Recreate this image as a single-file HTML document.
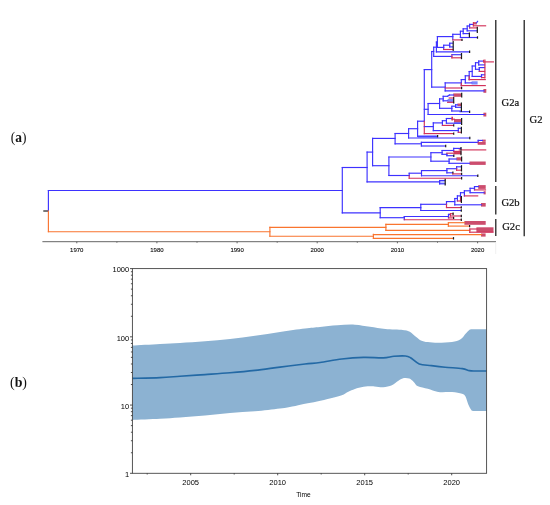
<!DOCTYPE html>
<html><head><meta charset="utf-8"><title>Figure</title>
<style>html,body{margin:0;padding:0;background:#fff}svg{display:block}</style></head>
<body>
<svg width="550" height="505" viewBox="0 0 550 505">
<rect width="550" height="505" fill="#fff"/>
<defs><filter id="soft" x="-2%" y="-2%" width="104%" height="104%"><feGaussianBlur stdDeviation="0.32"/></filter></defs>
<g id="tree" fill="none" stroke-linecap="square" filter="url(#soft)">
<rect x="473.4" y="22.1" width="3.4" height="2.4" fill="#c83e62" fill-opacity="0.93" stroke="none"/>
<rect x="483.4" y="89.0" width="2.9" height="3.8" fill="#c83e62" fill-opacity="0.93" stroke="none"/>
<rect x="471.6" y="81.3" width="6.0" height="3.2" fill="#6e7bff" fill-opacity="0.90" stroke="none"/>
<rect x="483.4" y="112.7" width="2.9" height="3.8" fill="#c83e62" fill-opacity="0.93" stroke="none"/>
<rect x="453.2" y="93.4" width="8.4" height="3.4" fill="#c83e62" fill-opacity="0.93" stroke="none"/>
<rect x="447.6" y="99.0" width="5.9" height="3.4" fill="#6e7bff" fill-opacity="0.90" stroke="none"/>
<rect x="457.4" y="103.5" width="3.6" height="2.6" fill="#c83e62" fill-opacity="0.93" stroke="none"/>
<rect x="454.0" y="122.0" width="7.2" height="1.8" fill="#6e7bff" fill-opacity="0.80" stroke="none"/>
<rect x="454.0" y="119.0" width="7.5" height="3.2" fill="#c83e62" fill-opacity="0.93" stroke="none"/>
<rect x="417.6" y="135.4" width="19.7" height="2.4" fill="#6e7bff" fill-opacity="0.70" stroke="none"/>
<rect x="482.2" y="139.6" width="3.5" height="2.2" fill="#c83e62" fill-opacity="0.93" stroke="none"/>
<rect x="478.2" y="142.0" width="7.5" height="2.8" fill="#c83e62" fill-opacity="0.93" stroke="none"/>
<rect x="453.6" y="151.0" width="7.6" height="3.4" fill="#c83e62" fill-opacity="0.93" stroke="none"/>
<rect x="456.4" y="157.3" width="5.1" height="3.2" fill="#c83e62" fill-opacity="0.93" stroke="none"/>
<rect x="469.5" y="161.5" width="16.2" height="3.4" fill="#c83e62" fill-opacity="0.93" stroke="none"/>
<rect x="439.6" y="180.6" width="5.2" height="3.2" fill="#6e7bff" fill-opacity="0.45" stroke="none"/>
<rect x="481.0" y="203.0" width="4.7" height="3.6" fill="#c83e62" fill-opacity="0.93" stroke="none"/>
<rect x="483.6" y="191.2" width="2.1" height="3.2" fill="#c83e62" fill-opacity="0.93" stroke="none"/>
<rect x="478.2" y="185.1" width="7.5" height="3.8" fill="#c83e62" fill-opacity="0.93" stroke="none"/>
<rect x="464.4" y="221.0" width="21.3" height="3.8" fill="#c83e62" fill-opacity="0.93" stroke="none"/>
<rect x="476.4" y="227.3" width="17.1" height="5.0" fill="#c83e62" fill-opacity="0.93" stroke="none"/>
<rect x="481.0" y="233.4" width="4.6" height="3.2" fill="#c83e62" fill-opacity="0.93" stroke="none"/>
<path d="M43.9,211.0L48.4,211.0" stroke="#111" stroke-width="1.15"/>
<path d="M48.4,190.5L48.4,211.0" stroke="#3c32ff" stroke-width="1.15"/>
<path d="M48.4,211.0L48.4,231.7" stroke="#f9742f" stroke-width="1.15"/>
<path d="M48.4,190.5L342.3,190.5" stroke="#3c32ff" stroke-width="1.15"/>
<path d="M48.4,231.7L269.9,231.7" stroke="#f9742f" stroke-width="1.15"/>
<path d="M342.3,167.5L342.3,212.8" stroke="#3c32ff" stroke-width="1.15"/>
<path d="M342.3,167.5L367.1,167.5" stroke="#3c32ff" stroke-width="1.15"/>
<path d="M367.1,152.1L367.1,181.8" stroke="#3c32ff" stroke-width="1.15"/>
<path d="M367.1,181.8L439.6,181.8" stroke="#3c32ff" stroke-width="1.15"/>
<path d="M367.1,152.1L372.6,152.1" stroke="#3c32ff" stroke-width="1.15"/>
<path d="M372.6,138.4L372.6,165.7" stroke="#3c32ff" stroke-width="1.15"/>
<path d="M372.6,138.4L395.1,138.4" stroke="#3c32ff" stroke-width="1.15"/>
<path d="M395.1,133.5L395.1,143.8" stroke="#3c32ff" stroke-width="1.15"/>
<path d="M372.6,165.7L388.9,165.7" stroke="#3c32ff" stroke-width="1.15"/>
<path d="M388.9,157.0L388.9,175.5" stroke="#3c32ff" stroke-width="1.15"/>
<path d="M388.9,157.0L430.9,157.0" stroke="#3c32ff" stroke-width="1.15"/>
<path d="M388.9,175.5L409.2,175.5" stroke="#3c32ff" stroke-width="1.15"/>
<path d="M342.3,212.8L380.2,212.8" stroke="#3c32ff" stroke-width="1.15"/>
<path d="M380.2,207.6L380.2,217.7" stroke="#3c32ff" stroke-width="1.15"/>
<path d="M424.3,69.6L424.3,121.2" stroke="#3c32ff" stroke-width="1.15"/>
<path d="M424.3,69.6L431.7,69.6" stroke="#3c32ff" stroke-width="1.15"/>
<path d="M431.7,51.5L431.7,87.1" stroke="#3c32ff" stroke-width="1.15"/>
<path d="M431.7,51.5L433.7,51.5" stroke="#3c32ff" stroke-width="1.15"/>
<path d="M433.7,47.2L433.7,56.4" stroke="#3c32ff" stroke-width="1.15"/>
<path d="M433.7,56.4L451.9,56.4" stroke="#3c32ff" stroke-width="1.15"/>
<path d="M451.9,54.7L451.9,57.8" stroke="#d2325a" stroke-width="1.15"/>
<path d="M451.9,54.7L461.0,54.7" stroke="#3c32ff" stroke-width="1.15"/>
<path d="M451.9,57.8L461.0,57.8" stroke="#d2325a" stroke-width="1.15"/>
<path d="M461.5,53.6L461.5,58.6" stroke="#1a1a1a" stroke-width="1.20"/>
<path d="M433.7,47.2L436.4,47.2" stroke="#3c32ff" stroke-width="1.15"/>
<path d="M436.4,42.0L436.4,51.8" stroke="#3c32ff" stroke-width="1.15"/>
<path d="M436.4,51.8L469.3,51.8" stroke="#3c32ff" stroke-width="1.15"/>
<path d="M469.6,51.2L469.6,52.4" stroke="#1a1a1a" stroke-width="1.20"/>
<path d="M436.4,42.0L437.4,42.0" stroke="#3c32ff" stroke-width="1.15"/>
<path d="M437.4,36.6L437.4,47.4" stroke="#3c32ff" stroke-width="1.15"/>
<path d="M437.4,47.4L443.7,47.4" stroke="#3c32ff" stroke-width="1.15"/>
<path d="M443.7,45.2L443.7,49.5" stroke="#3c32ff" stroke-width="1.15"/>
<path d="M443.7,49.5L452.8,49.5" stroke="#d2325a" stroke-width="1.15"/>
<path d="M443.7,45.2L449.7,45.2" stroke="#3c32ff" stroke-width="1.15"/>
<path d="M449.7,43.2L449.7,46.9" stroke="#3c32ff" stroke-width="1.15"/>
<path d="M449.7,43.2L452.6,43.2" stroke="#3c32ff" stroke-width="1.15"/>
<path d="M449.7,46.9L452.6,46.9" stroke="#3c32ff" stroke-width="1.15"/>
<path d="M453.2,41.6L453.2,50.4" stroke="#1a1a1a" stroke-width="1.20"/>
<path d="M437.4,36.6L452.8,36.6" stroke="#3c32ff" stroke-width="1.15"/>
<path d="M452.8,34.3L452.8,39.8" stroke="#3c32ff" stroke-width="1.15"/>
<path d="M452.8,39.9L461.6,39.9" stroke="#d2325a" stroke-width="1.15"/>
<path d="M462.0,39.3L462.0,40.5" stroke="#1a1a1a" stroke-width="1.20"/>
<path d="M452.8,34.3L460.4,34.3" stroke="#3c32ff" stroke-width="1.15"/>
<path d="M460.4,31.2L460.4,37.5" stroke="#3c32ff" stroke-width="1.15"/>
<path d="M460.4,37.5L477.2,37.5" stroke="#3c32ff" stroke-width="1.15"/>
<path d="M477.5,36.9L477.5,38.1" stroke="#1a1a1a" stroke-width="1.20"/>
<path d="M460.4,31.2L463.2,31.2" stroke="#3c32ff" stroke-width="1.15"/>
<path d="M463.2,28.8L463.2,33.6" stroke="#3c32ff" stroke-width="1.15"/>
<path d="M463.2,33.6L469.2,33.6" stroke="#3c32ff" stroke-width="1.15"/>
<path d="M469.4,33.2L469.4,36.8" stroke="#1a1a1a" stroke-width="1.20"/>
<path d="M463.2,28.8L467.2,28.8" stroke="#3c32ff" stroke-width="1.15"/>
<path d="M467.2,26.0L467.2,30.8" stroke="#3c32ff" stroke-width="1.15"/>
<path d="M467.2,30.8L476.8,30.8" stroke="#3c32ff" stroke-width="1.15"/>
<path d="M467.2,26.0L469.6,26.0" stroke="#3c32ff" stroke-width="1.15"/>
<path d="M469.6,24.4L469.6,27.9" stroke="#3c32ff" stroke-width="1.15"/>
<path d="M469.6,27.9L477.0,27.9" stroke="#d2325a" stroke-width="1.15"/>
<path d="M469.6,24.4L473.4,24.4" stroke="#3c32ff" stroke-width="1.15"/>
<path d="M473.4,22.5L473.4,25.8" stroke="#d2325a" stroke-width="1.15"/>
<path d="M473.4,25.8L485.6,25.8" stroke="#d2325a" stroke-width="1.15"/>
<path d="M476.6,22.8L477.6,21.4" stroke="#3c32ff" stroke-width="1.15"/>
<path d="M477.3,27.4L477.3,32.4" stroke="#1a1a1a" stroke-width="1.20"/>
<path d="M431.7,87.1L445.2,87.1" stroke="#3c32ff" stroke-width="1.15"/>
<path d="M445.2,82.9L445.2,90.9" stroke="#3c32ff" stroke-width="1.15"/>
<path d="M445.2,90.9L484.0,90.9" stroke="#3c32ff" stroke-width="1.15"/>
<path d="M445.2,88.0L461.3,88.0" stroke="#d2325a" stroke-width="1.15"/>
<path d="M461.6,87.4L461.6,88.6" stroke="#1a1a1a" stroke-width="1.20"/>
<path d="M445.2,82.9L461.3,82.9" stroke="#3c32ff" stroke-width="1.15"/>
<path d="M461.3,79.6L461.3,85.6" stroke="#3c32ff" stroke-width="1.15"/>
<path d="M461.3,83.2L461.3,85.6" stroke="#d2325a" stroke-width="1.15"/>
<path d="M461.3,85.6L485.3,85.6" stroke="#d2325a" stroke-width="1.15"/>
<path d="M461.3,79.6L465.3,79.6" stroke="#3c32ff" stroke-width="1.15"/>
<path d="M465.3,75.8L465.3,82.9" stroke="#3c32ff" stroke-width="1.15"/>
<path d="M465.3,82.9L471.6,82.9" stroke="#3c32ff" stroke-width="1.15"/>
<path d="M465.3,75.8L469.2,75.8" stroke="#3c32ff" stroke-width="1.15"/>
<path d="M469.2,71.5L469.2,79.6" stroke="#3c32ff" stroke-width="1.15"/>
<path d="M469.2,76.4L469.2,79.6" stroke="#d2325a" stroke-width="1.15"/>
<path d="M469.2,79.6L485.3,79.6" stroke="#d2325a" stroke-width="1.15"/>
<path d="M469.2,71.5L472.2,71.5" stroke="#3c32ff" stroke-width="1.15"/>
<path d="M472.2,66.0L472.2,76.4" stroke="#3c32ff" stroke-width="1.15"/>
<path d="M472.2,76.4L481.5,76.4" stroke="#3c32ff" stroke-width="1.15"/>
<path d="M481.5,74.8L481.5,77.6" stroke="#3c32ff" stroke-width="1.15"/>
<path d="M481.5,74.8L484.6,74.8" stroke="#3c32ff" stroke-width="1.15"/>
<path d="M481.5,77.6L484.6,77.6" stroke="#d2325a" stroke-width="1.15"/>
<path d="M472.2,66.0L475.5,66.0" stroke="#3c32ff" stroke-width="1.15"/>
<path d="M475.5,62.7L475.5,69.3" stroke="#3c32ff" stroke-width="1.15"/>
<path d="M475.5,69.3L479.3,69.3" stroke="#3c32ff" stroke-width="1.15"/>
<path d="M479.3,67.6L479.3,71.4" stroke="#3c32ff" stroke-width="1.15"/>
<path d="M479.3,67.6L484.6,67.6" stroke="#3c32ff" stroke-width="1.15"/>
<path d="M479.3,71.4L484.6,71.4" stroke="#d2325a" stroke-width="1.15"/>
<path d="M475.5,62.7L478.7,62.7" stroke="#3c32ff" stroke-width="1.15"/>
<path d="M478.7,61.1L478.7,64.9" stroke="#3c32ff" stroke-width="1.15"/>
<path d="M478.7,64.9L484.6,64.9" stroke="#3c32ff" stroke-width="1.15"/>
<path d="M478.7,61.1L483.6,61.1" stroke="#3c32ff" stroke-width="1.15"/>
<path d="M483.6,60.2L483.6,62.0" stroke="#d2325a" stroke-width="1.15"/>
<path d="M483.6,61.9L493.4,61.9" stroke="#d2325a" stroke-width="1.15"/>
<path d="M484.9,60.2L484.9,78.0" stroke="#d2325a" stroke-width="1.20"/>
<path d="M424.3,109.3L428.1,109.3" stroke="#3c32ff" stroke-width="1.15"/>
<path d="M428.1,103.5L428.1,114.5" stroke="#3c32ff" stroke-width="1.15"/>
<path d="M428.1,114.5L484.0,114.5" stroke="#3c32ff" stroke-width="1.15"/>
<path d="M428.1,103.5L439.6,103.5" stroke="#3c32ff" stroke-width="1.15"/>
<path d="M439.6,98.9L439.6,108.3" stroke="#3c32ff" stroke-width="1.15"/>
<path d="M439.6,98.9L443.2,98.9" stroke="#3c32ff" stroke-width="1.15"/>
<path d="M443.2,96.4L443.2,100.8" stroke="#3c32ff" stroke-width="1.15"/>
<path d="M443.2,96.3L447.6,96.3" stroke="#3c32ff" stroke-width="1.15"/>
<path d="M447.6,96.3L449.4,95.0" stroke="#3c32ff" stroke-width="1.15"/>
<path d="M449.4,95.0L453.4,95.0" stroke="#3c32ff" stroke-width="1.15"/>
<path d="M449.2,98.0L453.3,98.0" stroke="#d2325a" stroke-width="1.15"/>
<path d="M461.7,93.4L461.7,96.8" stroke="#1a1a1a" stroke-width="1.20"/>
<path d="M443.2,100.8L447.6,100.8" stroke="#3c32ff" stroke-width="1.15"/>
<path d="M447.6,102.3L453.5,102.3" stroke="#d2325a" stroke-width="1.15"/>
<path d="M453.7,97.6L453.7,102.8" stroke="#1a1a1a" stroke-width="1.20"/>
<path d="M439.6,108.3L452.0,108.3" stroke="#3c32ff" stroke-width="1.15"/>
<path d="M451.8,106.2L451.8,111.0" stroke="#3c32ff" stroke-width="1.15"/>
<path d="M452.0,106.2L455.6,106.2" stroke="#3c32ff" stroke-width="1.15"/>
<path d="M455.6,104.8L455.6,107.3" stroke="#3c32ff" stroke-width="1.15"/>
<path d="M455.6,104.8L457.6,104.8" stroke="#3c32ff" stroke-width="1.15"/>
<path d="M455.6,107.3L460.6,107.3" stroke="#3c32ff" stroke-width="1.15"/>
<path d="M451.8,111.0L460.4,111.0" stroke="#3c32ff" stroke-width="1.15"/>
<path d="M460.0,111.7L469.3,111.7" stroke="#3c32ff" stroke-width="1.15"/>
<path d="M469.6,111.2L469.6,112.4" stroke="#1a1a1a" stroke-width="1.20"/>
<path d="M461.4,103.2L461.4,111.2" stroke="#1a1a1a" stroke-width="1.20"/>
<path d="M417.6,121.2L424.3,121.2" stroke="#3c32ff" stroke-width="1.15"/>
<path d="M417.6,121.2L417.6,136.3" stroke="#3c32ff" stroke-width="1.15"/>
<path d="M424.3,121.2L424.3,133.6" stroke="#d2325a" stroke-width="1.15"/>
<path d="M424.3,133.6L453.3,133.6" stroke="#d2325a" stroke-width="1.15"/>
<path d="M453.7,133.0L453.7,134.2" stroke="#1a1a1a" stroke-width="1.20"/>
<path d="M424.3,126.6L433.3,126.6" stroke="#3c32ff" stroke-width="1.15"/>
<path d="M433.3,122.9L433.3,130.6" stroke="#3c32ff" stroke-width="1.15"/>
<path d="M433.3,130.6L458.3,130.6" stroke="#3c32ff" stroke-width="1.15"/>
<path d="M458.3,128.3L458.3,132.3" stroke="#3c32ff" stroke-width="1.15"/>
<path d="M458.3,128.3L461.0,128.3" stroke="#3c32ff" stroke-width="1.15"/>
<path d="M458.3,132.3L461.0,132.3" stroke="#d2325a" stroke-width="1.15"/>
<path d="M461.4,127.3L461.4,132.9" stroke="#1a1a1a" stroke-width="1.20"/>
<path d="M433.3,122.9L442.4,122.9" stroke="#3c32ff" stroke-width="1.15"/>
<path d="M442.4,120.5L442.4,125.4" stroke="#3c32ff" stroke-width="1.15"/>
<path d="M442.4,125.4L453.3,125.4" stroke="#d2325a" stroke-width="1.15"/>
<path d="M453.7,124.8L453.7,126.0" stroke="#1a1a1a" stroke-width="1.20"/>
<path d="M442.4,120.7L446.4,120.7" stroke="#3c32ff" stroke-width="1.15"/>
<path d="M446.4,118.5L446.4,123.2" stroke="#3c32ff" stroke-width="1.15"/>
<path d="M446.4,123.2L461.0,123.2" stroke="#3c32ff" stroke-width="1.15"/>
<path d="M446.4,118.5L451.5,118.5" stroke="#3c32ff" stroke-width="1.15"/>
<path d="M452.2,117.6L452.2,119.8" stroke="#d2325a" stroke-width="1.60"/>
<path d="M452.2,119.2L454.5,119.2" stroke="#d2325a" stroke-width="1.15"/>
<path d="M461.6,118.6L461.6,124.4" stroke="#1a1a1a" stroke-width="1.20"/>
<path d="M395.1,133.5L408.6,133.5" stroke="#3c32ff" stroke-width="1.15"/>
<path d="M408.6,128.7L408.6,138.0" stroke="#3c32ff" stroke-width="1.15"/>
<path d="M408.6,128.7L417.6,128.7" stroke="#3c32ff" stroke-width="1.15"/>
<path d="M417.6,136.3L437.3,136.3" stroke="#3c32ff" stroke-width="1.15"/>
<path d="M437.6,135.7L437.6,136.9" stroke="#1a1a1a" stroke-width="1.20"/>
<path d="M408.6,138.0L469.5,138.0" stroke="#3c32ff" stroke-width="1.15"/>
<path d="M469.8,137.4L469.8,138.6" stroke="#1a1a1a" stroke-width="1.20"/>
<path d="M395.1,143.8L421.4,143.8" stroke="#3c32ff" stroke-width="1.15"/>
<path d="M421.4,142.4L421.4,146.0" stroke="#3c32ff" stroke-width="1.15"/>
<path d="M421.4,142.4L478.2,142.4" stroke="#3c32ff" stroke-width="1.15"/>
<path d="M478.2,140.4L478.2,142.4" stroke="#3c32ff" stroke-width="1.15"/>
<path d="M478.2,142.4L478.2,144.0" stroke="#d2325a" stroke-width="1.15"/>
<path d="M478.2,140.4L482.4,140.4" stroke="#3c32ff" stroke-width="1.15"/>
<path d="M421.4,146.0L445.4,146.0" stroke="#3c32ff" stroke-width="1.15"/>
<path d="M445.7,145.4L445.7,146.6" stroke="#1a1a1a" stroke-width="1.20"/>
<path d="M430.9,152.7L430.9,161.2" stroke="#3c32ff" stroke-width="1.15"/>
<path d="M430.9,152.7L442.1,152.7" stroke="#3c32ff" stroke-width="1.15"/>
<path d="M442.1,150.5L442.1,154.3" stroke="#3c32ff" stroke-width="1.15"/>
<path d="M442.1,150.5L453.7,150.5" stroke="#3c32ff" stroke-width="1.15"/>
<path d="M453.7,148.4L453.7,151.5" stroke="#3c32ff" stroke-width="1.15"/>
<path d="M453.7,148.4L460.7,148.4" stroke="#3c32ff" stroke-width="1.15"/>
<path d="M459.3,149.9L485.7,149.9" stroke="#d2325a" stroke-width="1.15"/>
<path d="M453.7,151.4L459.3,151.4" stroke="#d2325a" stroke-width="1.15"/>
<path d="M461.0,147.6L461.0,150.2" stroke="#1a1a1a" stroke-width="1.20"/>
<path d="M442.1,154.3L446.9,154.3" stroke="#3c32ff" stroke-width="1.15"/>
<path d="M446.9,153.2L446.9,155.7" stroke="#3c32ff" stroke-width="1.15"/>
<path d="M446.9,153.2L460.7,153.2" stroke="#d2325a" stroke-width="1.15"/>
<path d="M446.9,155.7L453.5,155.7" stroke="#3c32ff" stroke-width="1.15"/>
<path d="M453.8,155.1L453.8,156.3" stroke="#1a1a1a" stroke-width="1.20"/>
<path d="M461.0,151.6L461.0,154.6" stroke="#1a1a1a" stroke-width="1.20"/>
<path d="M430.9,161.2L449.1,161.2" stroke="#3c32ff" stroke-width="1.15"/>
<path d="M449.1,159.0L449.1,163.3" stroke="#3c32ff" stroke-width="1.15"/>
<path d="M449.1,159.0L456.4,159.0" stroke="#3c32ff" stroke-width="1.15"/>
<path d="M461.6,157.2L461.6,160.8" stroke="#1a1a1a" stroke-width="1.20"/>
<path d="M449.1,163.3L469.5,163.3" stroke="#3c32ff" stroke-width="1.15"/>
<path d="M409.2,173.2L421.5,173.2" stroke="#3c32ff" stroke-width="1.15"/>
<path d="M409.2,173.2L409.2,175.7" stroke="#3c32ff" stroke-width="1.15"/>
<path d="M409.2,175.7L409.2,178.2" stroke="#d2325a" stroke-width="1.15"/>
<path d="M409.2,178.2L461.3,178.2" stroke="#d2325a" stroke-width="1.15"/>
<path d="M461.6,177.6L461.6,178.8" stroke="#1a1a1a" stroke-width="1.20"/>
<path d="M421.5,170.6L421.5,175.8" stroke="#3c32ff" stroke-width="1.15"/>
<path d="M421.5,175.7L477.5,175.7" stroke="#3c32ff" stroke-width="1.15"/>
<path d="M477.8,175.1L477.8,176.3" stroke="#1a1a1a" stroke-width="1.20"/>
<path d="M421.5,170.6L446.9,170.6" stroke="#3c32ff" stroke-width="1.15"/>
<path d="M446.9,168.7L446.9,172.8" stroke="#3c32ff" stroke-width="1.15"/>
<path d="M446.9,168.7L456.6,168.7" stroke="#3c32ff" stroke-width="1.15"/>
<path d="M456.6,166.8L456.6,168.7" stroke="#3c32ff" stroke-width="1.15"/>
<path d="M456.6,168.7L456.6,170.2" stroke="#d2325a" stroke-width="1.15"/>
<path d="M456.6,166.8L461.0,166.8" stroke="#3c32ff" stroke-width="1.15"/>
<path d="M456.6,170.2L461.0,170.2" stroke="#d2325a" stroke-width="1.15"/>
<path d="M461.5,165.8L461.5,170.9" stroke="#1a1a1a" stroke-width="1.20"/>
<path d="M446.9,172.8L452.6,172.8" stroke="#3c32ff" stroke-width="1.15"/>
<path d="M452.9,172.0L452.9,173.6" stroke="#1a1a1a" stroke-width="1.20"/>
<path d="M452.6,173.9L461.3,173.9" stroke="#d2325a" stroke-width="1.15"/>
<path d="M461.6,173.3L461.6,174.5" stroke="#1a1a1a" stroke-width="1.20"/>
<path d="M439.6,180.5L439.6,183.8" stroke="#3c32ff" stroke-width="1.15"/>
<path d="M439.6,180.5L444.8,180.5" stroke="#3c32ff" stroke-width="1.15"/>
<path d="M439.6,183.8L444.8,183.8" stroke="#3c32ff" stroke-width="1.15"/>
<path d="M445.2,179.4L445.2,184.8" stroke="#1a1a1a" stroke-width="1.20"/>
<path d="M380.2,207.6L420.8,207.6" stroke="#3c32ff" stroke-width="1.15"/>
<path d="M420.8,204.3L420.8,210.5" stroke="#3c32ff" stroke-width="1.15"/>
<path d="M420.8,210.5L461.0,210.5" stroke="#3c32ff" stroke-width="1.15"/>
<path d="M461.3,209.9L461.3,211.1" stroke="#1a1a1a" stroke-width="1.20"/>
<path d="M420.8,204.3L446.5,204.3" stroke="#3c32ff" stroke-width="1.15"/>
<path d="M446.5,201.6L446.5,204.3" stroke="#3c32ff" stroke-width="1.15"/>
<path d="M446.5,204.3L446.5,207.5" stroke="#d2325a" stroke-width="1.15"/>
<path d="M446.5,207.6L461.0,207.6" stroke="#d2325a" stroke-width="1.15"/>
<path d="M461.3,206.8L461.3,208.0" stroke="#1a1a1a" stroke-width="1.20"/>
<path d="M446.5,201.6L454.8,201.6" stroke="#3c32ff" stroke-width="1.15"/>
<path d="M454.8,198.5L454.8,204.8" stroke="#3c32ff" stroke-width="1.15"/>
<path d="M454.8,204.8L481.3,204.8" stroke="#3c32ff" stroke-width="1.15"/>
<path d="M454.8,198.5L457.4,198.5" stroke="#3c32ff" stroke-width="1.15"/>
<path d="M457.4,195.9L457.4,201.0" stroke="#3c32ff" stroke-width="1.15"/>
<path d="M457.4,201.0L460.6,201.0" stroke="#d2325a" stroke-width="1.15"/>
<path d="M460.5,196.5L460.5,201.0" stroke="#d2325a" stroke-width="1.15"/>
<path d="M457.4,195.9L460.5,195.9" stroke="#3c32ff" stroke-width="1.15"/>
<path d="M460.5,192.7L460.5,196.5" stroke="#3c32ff" stroke-width="1.15"/>
<path d="M461.4,196.5L461.4,202.4" stroke="#1a1a1a" stroke-width="1.20"/>
<path d="M460.5,192.7L464.4,192.7" stroke="#3c32ff" stroke-width="1.15"/>
<path d="M464.4,190.8L464.4,195.8" stroke="#3c32ff" stroke-width="1.15"/>
<path d="M464.4,195.9L477.7,195.9" stroke="#d2325a" stroke-width="1.15"/>
<path d="M464.4,190.8L470.1,190.8" stroke="#3c32ff" stroke-width="1.15"/>
<path d="M470.1,188.3L470.1,192.7" stroke="#3c32ff" stroke-width="1.15"/>
<path d="M470.1,192.7L484.1,192.7" stroke="#3c32ff" stroke-width="1.15"/>
<path d="M470.1,188.3L474.5,188.3" stroke="#3c32ff" stroke-width="1.15"/>
<path d="M474.5,186.6L474.5,189.9" stroke="#3c32ff" stroke-width="1.15"/>
<path d="M474.5,189.9L485.5,189.9" stroke="#d2325a" stroke-width="1.15"/>
<path d="M474.5,186.6L478.4,186.6" stroke="#3c32ff" stroke-width="1.15"/>
<path d="M380.2,217.7L404.3,217.7" stroke="#3c32ff" stroke-width="1.15"/>
<path d="M404.3,216.5L404.3,219.7" stroke="#3c32ff" stroke-width="1.15"/>
<path d="M404.3,219.7L461.0,219.7" stroke="#d2325a" stroke-width="1.15"/>
<path d="M461.3,219.1L461.3,220.3" stroke="#1a1a1a" stroke-width="1.20"/>
<path d="M404.3,216.5L448.5,216.5" stroke="#3c32ff" stroke-width="1.15"/>
<path d="M448.5,214.4L448.5,217.9" stroke="#3c32ff" stroke-width="1.15"/>
<path d="M448.5,217.9L453.3,217.9" stroke="#d2325a" stroke-width="1.15"/>
<path d="M453.6,217.3L453.6,218.5" stroke="#1a1a1a" stroke-width="1.20"/>
<path d="M448.5,214.4L450.4,214.4" stroke="#3c32ff" stroke-width="1.15"/>
<path d="M450.4,213.6L450.4,216.0" stroke="#d2325a" stroke-width="1.15"/>
<path d="M450.4,213.7L452.8,213.7" stroke="#d2325a" stroke-width="1.15"/>
<path d="M453.1,213.1L453.1,214.6" stroke="#1a1a1a" stroke-width="1.20"/>
<path d="M450.4,216.0L461.0,216.0" stroke="#d2325a" stroke-width="1.15"/>
<path d="M461.3,215.4L461.3,216.6" stroke="#1a1a1a" stroke-width="1.20"/>
<path d="M269.9,227.4L269.9,236.2" stroke="#f9742f" stroke-width="1.15"/>
<path d="M269.9,227.4L385.9,227.4" stroke="#f9742f" stroke-width="1.15"/>
<path d="M385.9,224.4L385.9,230.4" stroke="#f9742f" stroke-width="1.15"/>
<path d="M385.9,224.4L448.4,224.4" stroke="#f9742f" stroke-width="1.15"/>
<path d="M448.4,222.7L448.4,226.1" stroke="#f9742f" stroke-width="1.15"/>
<path d="M448.4,222.7L464.6,222.7" stroke="#f9742f" stroke-width="1.15"/>
<path d="M448.4,226.1L469.3,226.1" stroke="#f9742f" stroke-width="1.15"/>
<path d="M469.6,225.5L469.6,226.7" stroke="#1a1a1a" stroke-width="1.20"/>
<path d="M385.9,230.4L469.8,230.4" stroke="#f9742f" stroke-width="1.15"/>
<path d="M469.8,229.0L469.8,232.5" stroke="#d2325a" stroke-width="1.15"/>
<path d="M469.8,229.0L477.0,229.0" stroke="#d2325a" stroke-width="1.15"/>
<path d="M469.8,232.2L493.0,232.2" stroke="#d2325a" stroke-width="1.15"/>
<path d="M269.9,236.2L373.4,236.2" stroke="#f9742f" stroke-width="1.15"/>
<path d="M373.4,234.4L373.4,238.3" stroke="#f9742f" stroke-width="1.15"/>
<path d="M373.4,234.6L481.3,234.6" stroke="#f9742f" stroke-width="1.15"/>
<path d="M373.4,238.3L453.2,238.3" stroke="#f9742f" stroke-width="1.15"/>
<path d="M453.5,237.7L453.5,238.9" stroke="#1a1a1a" stroke-width="1.20"/>
</g>
<g id="taxis" stroke="#555" stroke-width="0.9" fill="none">
<path d="M42.4,241.7H496"/>
<path d="M76.8,241.7v1.6"/>
<path d="M116.9,241.7v1.0"/>
<path d="M156.9,241.7v1.6"/>
<path d="M197.0,241.7v1.0"/>
<path d="M237.1,241.7v1.6"/>
<path d="M277.2,241.7v1.0"/>
<path d="M317.2,241.7v1.6"/>
<path d="M357.3,241.7v1.0"/>
<path d="M397.4,241.7v1.6"/>
<path d="M437.5,241.7v1.0"/>
<path d="M477.6,241.7v1.6"/>
</g>
<path d="M495.7,242.2V254" stroke="#ececec" stroke-width="0.8" fill="none"/>
<g font-family="'Liberation Sans', Arial, sans-serif" font-size="6.0" fill="#111" stroke="#111" stroke-width="0.12" text-anchor="middle">
<text x="76.8" y="252.0">1970</text>
<text x="156.9" y="252.0">1980</text>
<text x="237.1" y="252.0">1990</text>
<text x="317.2" y="252.0">2000</text>
<text x="397.4" y="252.0">2010</text>
<text x="477.6" y="252.0">2020</text>
</g>
<g stroke="#111" stroke-width="1.2" fill="none"><path d="M495.8,20V182"/><path d="M495.8,186.1V214.6"/><path d="M495.8,219V236.1"/><path d="M524.2,20V236.2"/></g>
<g font-family="'Liberation Serif', 'Times New Roman', serif" font-size="10.6" fill="#111" stroke="#111" stroke-width="0.2">
<text x="501.6" y="105.7">G2a</text><text x="501.4" y="206">G2b</text><text x="502.2" y="230.4">G2c</text><text x="529.6" y="122.8">G2</text>
</g>
<g font-family="'Liberation Serif', 'Times New Roman', serif" font-size="14.6" fill="#111">
<text x="10.7" y="142.3" textLength="15.7" lengthAdjust="spacingAndGlyphs">(<tspan font-weight="bold">a</tspan>)</text>
<text x="10.0" y="387.3" textLength="17.0" lengthAdjust="spacingAndGlyphs">(<tspan font-weight="bold">b</tspan>)</text>
</g>
<path d="M132.40,345.60 C137.00,345.33 152.07,344.45 160.00,344.00 C167.93,343.55 172.50,343.37 180.00,342.90 C187.50,342.43 196.67,341.83 205.00,341.20 C213.33,340.57 221.67,340.02 230.00,339.10 C238.33,338.18 246.67,336.90 255.00,335.70 C263.33,334.50 271.67,333.10 280.00,331.90 C288.33,330.70 298.33,329.32 305.00,328.50 C311.67,327.68 314.60,327.55 320.00,327.00 C325.40,326.45 331.58,325.58 337.40,325.20 C343.22,324.82 349.47,324.43 354.90,324.70 C360.33,324.97 364.92,326.08 370.00,326.80 C375.08,327.52 379.93,328.48 385.40,329.00 C390.87,329.52 398.82,329.47 402.80,329.90 C406.78,330.33 407.12,330.45 409.30,331.60 C411.48,332.75 413.97,335.33 415.90,336.80 C417.83,338.27 418.92,339.52 420.90,340.40 C422.88,341.28 424.92,341.70 427.80,342.10 C430.68,342.50 434.17,342.82 438.20,342.80 C442.23,342.78 448.27,342.60 452.00,342.00 C455.73,341.40 458.30,340.62 460.60,339.20 C462.90,337.78 464.35,335.03 465.80,333.50 C467.25,331.97 468.15,330.70 469.30,330.00 C470.45,329.30 469.82,329.42 472.70,329.30 C475.58,329.18 484.28,329.30 486.60,329.30 L486.60,411.00 C484.45,411.00 476.30,411.25 473.70,411.00 C471.10,410.75 471.92,410.63 471.00,409.50 C470.08,408.37 469.12,406.37 468.20,404.20 C467.28,402.03 466.53,398.23 465.50,396.50 C464.47,394.77 464.25,394.53 462.00,393.80 C459.75,393.07 455.97,392.42 452.00,392.10 C448.03,391.78 442.23,392.45 438.20,391.90 C434.17,391.35 431.17,389.73 427.80,388.80 C424.43,387.87 420.35,387.45 418.00,386.30 C415.65,385.15 415.15,383.18 413.70,381.90 C412.25,380.62 410.93,379.23 409.30,378.60 C407.67,377.97 405.72,377.73 403.90,378.10 C402.08,378.47 400.40,379.62 398.40,380.80 C396.40,381.98 394.43,384.13 391.90,385.20 C389.37,386.27 386.10,387.00 383.20,387.20 C380.30,387.40 377.77,386.47 374.50,386.40 C371.23,386.33 366.87,386.38 363.60,386.80 C360.33,387.22 357.45,388.08 354.90,388.90 C352.35,389.72 350.48,390.65 348.30,391.70 C346.12,392.75 344.70,394.12 341.80,395.20 C338.90,396.28 335.03,397.15 330.90,398.20 C326.77,399.25 321.32,400.58 317.00,401.50 C312.68,402.42 308.60,402.97 305.00,403.70 C301.40,404.43 299.57,405.10 295.40,405.90 C291.23,406.70 286.73,407.60 280.00,408.50 C273.27,409.40 263.33,410.55 255.00,411.30 C246.67,412.05 238.33,412.28 230.00,413.00 C221.67,413.72 213.33,414.83 205.00,415.60 C196.67,416.37 187.50,417.07 180.00,417.60 C172.50,418.13 167.93,418.40 160.00,418.80 C152.07,419.20 137.00,419.80 132.40,420.00Z" fill="#8cb2d2" stroke="none"/>
<path d="M132.40,378.40 C137.00,378.27 152.07,377.95 160.00,377.60 C167.93,377.25 172.50,376.80 180.00,376.30 C187.50,375.80 196.67,375.18 205.00,374.60 C213.33,374.02 221.67,373.50 230.00,372.80 C238.33,372.10 246.67,371.35 255.00,370.40 C263.33,369.45 271.67,368.17 280.00,367.10 C288.33,366.03 298.33,364.77 305.00,364.00 C311.67,363.23 313.87,363.33 320.00,362.50 C326.13,361.67 334.53,359.85 341.80,359.00 C349.07,358.15 356.70,357.58 363.60,357.40 C370.50,357.22 378.13,358.08 383.20,357.90 C388.27,357.72 390.30,356.62 394.00,356.30 C397.70,355.98 402.65,355.77 405.40,356.00 C408.15,356.23 408.20,356.38 410.50,357.70 C412.80,359.02 415.73,362.58 419.20,363.90 C422.67,365.22 426.98,365.05 431.30,365.60 C435.62,366.15 439.93,366.70 445.10,367.20 C450.27,367.70 458.27,368.03 462.30,368.60 C466.33,369.17 467.18,370.20 469.30,370.60 C471.42,371.00 472.12,370.93 475.00,371.00 C477.88,371.07 484.67,371.00 486.60,371.00" fill="none" stroke="#2369a5" stroke-width="1.65"/>
<rect x="132.4" y="268.6" width="354.2" height="204.7" fill="none" stroke="#444" stroke-width="0.9"/>
<g stroke="#333" stroke-width="0.85">
<path d="M132.4,473.30h-2.4"/>
<path d="M132.4,452.76h-1.5"/>
<path d="M132.4,440.74h-1.5"/>
<path d="M132.4,432.22h-1.5"/>
<path d="M132.4,425.61h-1.5"/>
<path d="M132.4,420.20h-1.5"/>
<path d="M132.4,415.64h-1.5"/>
<path d="M132.4,411.68h-1.5"/>
<path d="M132.4,408.19h-1.5"/>
<path d="M132.4,405.07h-2.4"/>
<path d="M132.4,384.53h-1.5"/>
<path d="M132.4,372.51h-1.5"/>
<path d="M132.4,363.99h-1.5"/>
<path d="M132.4,357.37h-1.5"/>
<path d="M132.4,351.97h-1.5"/>
<path d="M132.4,347.40h-1.5"/>
<path d="M132.4,343.45h-1.5"/>
<path d="M132.4,339.96h-1.5"/>
<path d="M132.4,336.83h-2.4"/>
<path d="M132.4,316.29h-1.5"/>
<path d="M132.4,304.28h-1.5"/>
<path d="M132.4,295.75h-1.5"/>
<path d="M132.4,289.14h-1.5"/>
<path d="M132.4,283.74h-1.5"/>
<path d="M132.4,279.17h-1.5"/>
<path d="M132.4,275.21h-1.5"/>
<path d="M132.4,271.72h-1.5"/>
<path d="M132.4,268.60h-2.4"/>
<path d="M147.2,473.3v1.2"/>
<path d="M190.7,473.3v2.0"/>
<path d="M234.2,473.3v1.2"/>
<path d="M277.7,473.3v2.0"/>
<path d="M321.2,473.3v1.2"/>
<path d="M364.7,473.3v2.0"/>
<path d="M408.2,473.3v1.2"/>
<path d="M451.7,473.3v2.0"/>
</g>
<g font-family="'Liberation Sans', Arial, sans-serif" font-size="7.5" fill="#000">
<text x="129.2" y="477.0" text-anchor="end">1</text>
<text x="129.2" y="408.8" text-anchor="end">10</text>
<text x="129.2" y="340.5" text-anchor="end">100</text>
<text x="129.2" y="272.3" text-anchor="end">1000</text>
<text x="190.7" y="485.2" text-anchor="middle">2005</text>
<text x="277.7" y="485.2" text-anchor="middle">2010</text>
<text x="364.7" y="485.2" text-anchor="middle">2015</text>
<text x="451.7" y="485.2" text-anchor="middle">2020</text>
<text x="303.5" y="497" text-anchor="middle" font-size="6.6">Time</text>
</g>
</svg>
</body></html>
